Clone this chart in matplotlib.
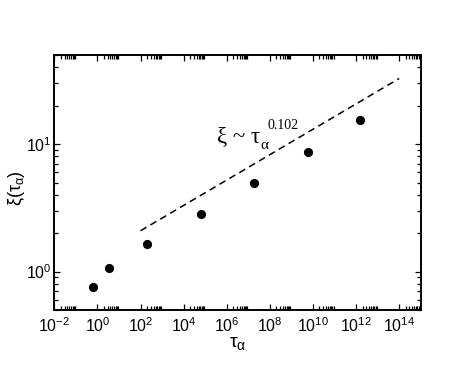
import numpy as np
import matplotlib
matplotlib.use("Agg")
import matplotlib.pyplot as plt
from matplotlib.ticker import LogLocator, NullFormatter
from matplotlib.transforms import IdentityTransform

plt.rcParams['font.family'] = ['Liberation Sans', 'DejaVu Sans']
plt.rcParams['mathtext.fontset'] = 'custom'
plt.rcParams['mathtext.rm'] = 'Liberation Sans'
plt.rcParams['mathtext.it'] = 'Liberation Sans'
plt.rcParams['mathtext.bf'] = 'Liberation Sans:bold'

# data
tau_alpha = [0.62, 3.3, 200, 6.3e4, 1.9e7, 5.7e9, 1.6e12]
xi = [0.76, 1.07, 1.65, 2.85, 4.95, 8.7, 15.4]

# power-law guide, xi ~ tau^0.102
fit_tau = [1e2, 1e14]
fit_xi = [2.09, 32.7]

# axis ticks
x_major = [1e-2, 1e0, 1e2, 1e4, 1e6, 1e8, 1e10, 1e12, 1e14]
y_major = [1e0, 1e1]

fig = plt.figure(figsize=(4.74, 3.65), dpi=100)
ax = fig.add_axes([0.1146, 0.1507, 0.773, 0.6986])

ax.plot(tau_alpha, xi, 'o', color='black', markersize=5.6)
ax.plot(fit_tau, fit_xi, color='black', lw=1.1, dashes=(4.5, 3))

ax.set_xscale('log')
ax.set_yscale('log')
ax.set_xticks(x_major)
ax.set_yticks(y_major)
ax.set_xlim(1e-2, 1e15)
ax.set_ylim(0.5, 50)

ax.xaxis.set_minor_locator(LogLocator(base=100.0, subs=np.arange(2, 10), numticks=20))
ax.xaxis.set_minor_formatter(NullFormatter())
ax.yaxis.set_minor_locator(LogLocator(base=10.0, subs=np.arange(2, 10)))
ax.yaxis.set_minor_formatter(NullFormatter())

ax.tick_params(which='both', direction='in', top=True, right=True, width=0.9)
ax.tick_params(which='major', length=4.5, labelsize=11.5)
ax.tick_params(axis='x', which='major', pad=4.5)
ax.tick_params(axis='y', which='major', pad=2)
ax.tick_params(which='minor', length=3)
for s in ax.spines.values():
    s.set_linewidth(1.4)

ax.set_xlabel(r'$\tau_\alpha$', fontsize=14, va='center')
ax.xaxis.set_label_coords(0.5, -0.133)
ax.set_ylabel(r'$\xi(\tau_\alpha)$', fontsize=13, va='center')
ax.yaxis.set_label_coords(-0.104, 0.48)

# fit annotation, built from pieces so the exponent sits after the subscript
serif = 'Liberation Serif'
t1 = ax.text(0.444, 0.657, 'ξ ~ τ', transform=ax.transAxes,
             fontsize=16.5, family=serif, ha='left', va='baseline')
fig.canvas.draw()
bb = t1.get_window_extent()
t2 = ax.text(bb.x1 + 0.5, bb.y0 + 4 - 6, 'α', fontsize=11, family=serif,
             ha='left', va='baseline', transform=IdentityTransform())
fig.canvas.draw()
bb2 = t2.get_window_extent()
ax.text(bb2.x1 - 1, bb.y0 + 4 + 14, '0.102', fontsize=10, family=serif,
        ha='left', va='baseline', transform=IdentityTransform())

fig.savefig('out.png', dpi=100)
